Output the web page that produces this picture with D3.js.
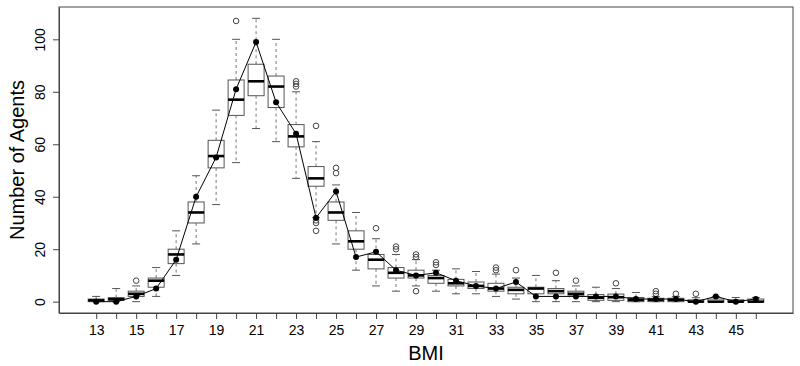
<!DOCTYPE html>
<html>
<head>
<meta charset="utf-8">
<script src="https://cdn.jsdelivr.net/npm/d3@7"></script>
<style>
  body { margin: 0; background: #fff; }
  text { font-family: "Liberation Sans", Arial, sans-serif; fill: #000; }
</style>
</head>
<body>
<svg id="chart" width="800" height="366"></svg>
<script>
// BMI categories
const bmi = [13, 14, 15, 16, 17, 18, 19, 20, 21, 22, 23, 24, 25, 26, 27, 28, 29,
             30, 31, 32, 33, 34, 35, 36, 37, 38, 39, 40, 41, 42, 43, 44, 45, 46];
// box statistics per category
const whiskerLow  = [0, 0, 0, 2, 10, 22, 37, 53, 66, 61, 47, 32, 22, 12, 6, 4, 6,
                     4, 3, 3, 2, 1, 0, 0, 0, 0, 0, 0, 0, 0, 0, 0, 0, 0];
const q1          = [0, 0.5, 2, 5.5, 14.5, 30, 51, 71, 78.5, 74, 59, 44, 31, 20, 12.5, 9, 9,
                     7, 6, 5, 4, 3, 3, 3, 2.5, 0.5, 0.5, 0, 0, 0, 0, 0, 0, 0];
const median      = [0.5, 1, 3, 8, 18, 34, 55.5, 77, 84, 82, 63, 47, 34, 23, 16, 11, 10,
                     9, 7, 6, 5, 4.5, 5, 4, 3, 1.5, 1.7, 0.7, 0.7, 0.7, 0, 0, 0, 0];
const q3          = [1, 1.5, 4, 9, 20, 38, 61.5, 84.5, 90.5, 86, 67.5, 51.5, 38, 27, 18, 13, 12,
                     10, 8.5, 7.5, 7, 5.5, 5.5, 5, 4, 2.7, 2.9, 1.6, 1.3, 1.3, 0.7, 1, 0.7, 1];
const whiskerHigh = [2, 5, 6, 13, 27, 48, 73, 100, 108, 100, 80, 61, 44.5, 34, 24, 18, 16,
                     12, 12.5, 11.5, 10.5, 9, 10, 8, 6, 5.5, 5, 3.5, 2, 2, 1.5, 2, 1.6, 1.6];
const outliers    = [[], [], [8], [], [], [], [], [107], [], [], [82, 83, 84], [67, 31, 30, 27],
                     [49, 51], [], [28], [20, 21], [17, 18, 4], [14, 15], [], [], [12, 13], [12],
                     [], [11], [8], [], [7], [], [3, 4], [3], [3], [], [], []];
// observed counts (line with filled dots)
const observed    = [0, 0, 2, 5, 16, 40, 55, 81, 99, 76, 64, 32, 42, 17, 19, 12, 10,
                     11, 8, 6, 5, 7.5, 2, 2, 2, 2, 2, 1, 1, 1, 0, 2, 0, 1];
const yTicks = [0, 20, 40, 60, 80, 100];

const svg = d3.select('#chart');
const n = bmi.length;

const x = d3.scaleLinear()
    .domain([0.5 - 0.04 * n, n + 0.5 + 0.04 * n])
    .range([59, 793]);
const y = d3.scaleLinear()
    .domain([-4.32, 112.32])
    .range([313, 7]);

const unit = x(2) - x(1);
const boxW = unit * 0.8;
const capW = boxW * 0.5;

const rows = bmi.map((b, i) => ({
    pos: i + 1, bmi: b, lo: whiskerLow[i], q1: q1[i], med: median[i],
    q3: q3[i], hi: whiskerHigh[i], out: outliers[i], obs: observed[i]
}));

const plot = svg.append('g');

const g = plot.selectAll('g.box')
    .data(rows)
    .enter()
    .append('g')
    .attr('class', 'box');

// dashed whiskers
g.append('line')
    .attr('x1', d => x(d.pos)).attr('x2', d => x(d.pos))
    .attr('y1', d => y(d.q3)).attr('y2', d => y(d.hi))
    .attr('stroke', '#777').attr('stroke-dasharray', '3,3');
g.append('line')
    .attr('x1', d => x(d.pos)).attr('x2', d => x(d.pos))
    .attr('y1', d => y(d.q1)).attr('y2', d => y(d.lo))
    .attr('stroke', '#777').attr('stroke-dasharray', '3,3');
// staples
g.append('line')
    .attr('x1', d => x(d.pos) - capW / 2).attr('x2', d => x(d.pos) + capW / 2)
    .attr('y1', d => y(d.hi)).attr('y2', d => y(d.hi))
    .attr('stroke', '#555');
g.append('line')
    .attr('x1', d => x(d.pos) - capW / 2).attr('x2', d => x(d.pos) + capW / 2)
    .attr('y1', d => y(d.lo)).attr('y2', d => y(d.lo))
    .attr('stroke', '#555');
// box
g.append('rect')
    .attr('x', d => x(d.pos) - boxW / 2)
    .attr('y', d => y(d.q3))
    .attr('width', boxW)
    .attr('height', d => Math.max(0.5, y(d.q1) - y(d.q3)))
    .attr('fill', '#fff')
    .attr('stroke', '#555');
// median
g.append('line')
    .attr('x1', d => x(d.pos) - boxW / 2).attr('x2', d => x(d.pos) + boxW / 2)
    .attr('y1', d => y(d.med)).attr('y2', d => y(d.med))
    .attr('stroke', '#000').attr('stroke-width', 2.6);
// outliers
g.selectAll('circle.out')
    .data(d => d.out.map(v => ({pos: d.pos, v: v})))
    .enter()
    .append('circle')
    .attr('class', 'out')
    .attr('cx', d => x(d.pos))
    .attr('cy', d => y(d.v))
    .attr('r', 2.8)
    .attr('fill', 'none')
    .attr('stroke', '#444');

// observed line + dots
const line = d3.line()
    .x(d => x(d.pos))
    .y(d => y(d.obs));
plot.append('path')
    .datum(rows)
    .attr('d', line)
    .attr('fill', 'none')
    .attr('stroke', '#000')
    .attr('stroke-width', 1);
plot.selectAll('circle.obs')
    .data(rows)
    .enter()
    .append('circle')
    .attr('class', 'obs')
    .attr('cx', d => x(d.pos))
    .attr('cy', d => y(d.obs))
    .attr('r', 3)
    .attr('fill', '#000');

// frame
svg.append('rect')
    .attr('x', 59).attr('y', 7)
    .attr('width', 793 - 59).attr('height', 313 - 7)
    .attr('fill', 'none')
    .attr('stroke', '#444');

// x axis
const xAxis = d3.axisBottom(x)
    .tickValues(rows.map(d => d.pos))
    .tickFormat(p => (p % 2 === 1 ? bmi[p - 1] : ''))
    .tickSize(6)
    .tickSizeOuter(0);
const xg = svg.append('g')
    .attr('transform', 'translate(0,313)')
    .call(xAxis);
xg.select('.domain').attr('stroke', '#444');
xg.selectAll('.tick line').attr('stroke', '#444');
xg.selectAll('.tick text')
    .attr('y', 22)
    .attr('dy', 0)
    .style('font-size', '14px')
    .style('font-family', '"Liberation Sans", Arial, sans-serif');

// y axis
const yAxis = d3.axisLeft(y)
    .tickValues(yTicks)
    .tickSize(6)
    .tickSizeOuter(0);
const yg = svg.append('g')
    .attr('transform', 'translate(59,0)')
    .call(yAxis);
yg.select('.domain').attr('stroke', '#444');
yg.selectAll('.tick line').attr('stroke', '#444');
yg.selectAll('.tick text')
    .attr('x', 0).attr('y', 0).attr('dy', 0)
    .attr('text-anchor', 'middle')
    .attr('transform', 'translate(-14,0) rotate(-90)')
    .style('font-size', '14px')
    .style('font-family', '"Liberation Sans", Arial, sans-serif');

// axis titles
svg.append('text')
    .attr('x', 426)
    .attr('y', 360)
    .attr('text-anchor', 'middle')
    .style('font-size', '20px')
    .text('BMI');
svg.append('text')
    .attr('transform', 'translate(24,160) rotate(-90)')
    .attr('text-anchor', 'middle')
    .style('font-size', '20px')
    .text('Number of Agents');
</script>
</body>
</html>
